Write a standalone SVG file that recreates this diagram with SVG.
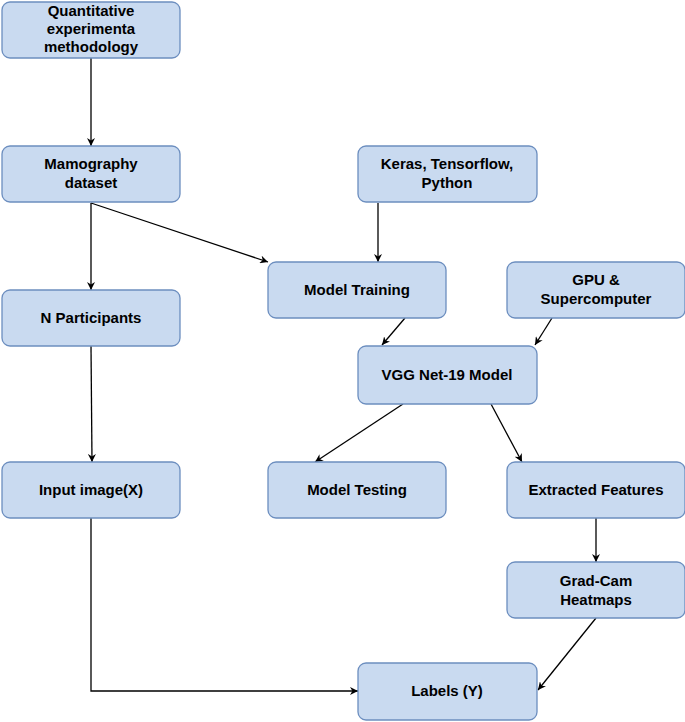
<svg xmlns="http://www.w3.org/2000/svg" width="685" height="722" viewBox="0 0 685 722">
<style>
.n rect{fill:#c9daf0;stroke:#6c8ebf;stroke-width:1.3}
.n text{font-family:"Liberation Sans",Arial,sans-serif;font-weight:bold;font-size:15px;fill:#000;text-anchor:middle}
#c path{fill:none;stroke:#000;stroke-width:1.3;marker-end:url(#a)}
</style>
<defs><marker id="a" viewBox="0 0 10 10" refX="10" refY="5" markerWidth="8" markerHeight="8" orient="auto" markerUnits="userSpaceOnUse"><path d="M0,0 L10,5 L0,10 L3,5 Z" fill="#000"/></marker></defs>
<rect width="685" height="722" fill="#fff"/>
<g id="c">
<path d="M91,58 V146"/>
<path d="M91,203 V290"/>
<path d="M91,203 L268,262"/>
<path d="M378,203 V262"/>
<path d="M405,318 L382,345"/>
<path d="M552,318 L535,345"/>
<path d="M91,346 L92,462"/>
<path d="M403,404 L315,462"/>
<path d="M491,404 L522,462"/>
<path d="M596,518 V562"/>
<path d="M596,618 L538,690"/>
<path d="M91,518 V691 H358"/>
</g>
<g id="n1" class="n"><rect x="2" y="2" width="178" height="56" rx="8"/><text x="91" y="16">Quantitative</text><text x="91" y="34">experimenta</text><text x="91" y="52">methodology</text></g>
<g id="n2" class="n"><rect x="2" y="146" width="178" height="56" rx="8"/><text x="91" y="169">Mamography</text><text x="91" y="188">dataset</text></g>
<g id="n3" class="n"><rect x="358" y="146" width="179" height="56" rx="8"/><text x="447" y="169">Keras, Tensorflow,</text><text x="447" y="188">Python</text></g>
<g id="n4" class="n"><rect x="2" y="290" width="178" height="56" rx="8"/><text x="91" y="323">N Participants</text></g>
<g id="n5" class="n"><rect x="268" y="262" width="178" height="56" rx="8"/><text x="357" y="295">Model Training</text></g>
<g id="n6" class="n"><rect x="507" y="262" width="178" height="56" rx="8"/><text x="596" y="285">GPU &amp;</text><text x="596" y="304">Supercomputer</text></g>
<g id="n7" class="n"><rect x="358" y="346" width="179" height="58" rx="8"/><text x="447" y="380">VGG Net-19 Model</text></g>
<g id="n8" class="n"><rect x="2" y="462" width="178" height="56" rx="8"/><text x="91" y="495">Input image(X)</text></g>
<g id="n9" class="n"><rect x="268" y="462" width="178" height="56" rx="8"/><text x="357" y="495">Model Testing</text></g>
<g id="n10" class="n"><rect x="507" y="462" width="178" height="56" rx="8"/><text x="596" y="495">Extracted Features</text></g>
<g id="n11" class="n"><rect x="507" y="562" width="178" height="56" rx="8"/><text x="596" y="586">Grad-Cam</text><text x="596" y="605">Heatmaps</text></g>
<g id="n12" class="n"><rect x="358" y="663" width="179" height="57" rx="8"/><text x="447" y="696">Labels (Y)</text></g>
</svg>
